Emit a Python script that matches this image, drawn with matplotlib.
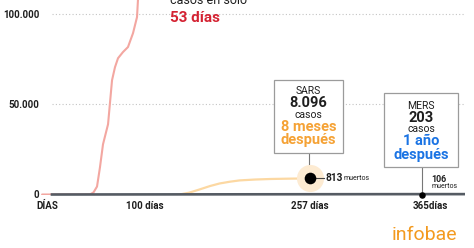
import matplotlib
matplotlib.use('Agg')
import matplotlib.pyplot as plt
from matplotlib.patches import Rectangle

plt.rcParams['font.family'] = ['Roboto', 'DejaVu Sans']

# curves (day, cases)
covid_days = [2, 30, 47.6, 51, 54.3, 57.1, 60, 64.8, 68.6, 71.4, 74.3, 79, 83.8,
              88.6, 92.4, 93.3, 96]
covid_cases = [0, 0, 0, 1200, 4400, 15000, 27800, 38900, 63300, 70500, 75500,
               78900, 81700, 89400, 98300, 107800, 118000]

sars_days = [133, 142, 152, 162, 171, 181, 190, 205, 220, 240, 257]
sars_cases = [0, 1000, 2800, 4700, 6100, 7100, 7800, 8300, 8600, 8800, 8900]

mers_days = [11.4, 365, 403.5]
mers_cases = [0, 203, 203]

ytick_vals = [0, 50000, 100000]
ytick_labels = ['0', '50.000', '100.000']
xtick_days = [100, 257, 372]
xtick_labels = ['100 días', '257 días', '365días']

sars_total, sars_deaths, sars_day = '8.096', '813', 257
mers_total, mers_deaths, mers_day = '203', '106', 364

pink = '#f3a7a1'
sars_col = '#fcd8a2'
orange = '#f5a235'
blue = '#1b74e4'
red = '#d42232'
dark = '#555b63'
txt = '#1e1e1e'

fig = plt.figure(figsize=(4.74, 2.48), dpi=100)
W, H = 474, 248
# axes: day 0 at x=40px, 0 cases at y=194.5px, 1.05 px/day, 1.805 px/1000 cases
ax = fig.add_axes([40 / W, (H - 194.5) / H, (W - 40) / W, 194.5 / H])
ax.set_xlim(0, (W - 40) / 1.05)
ax.set_ylim(0, 194.5 / 1.805 * 1000)
for s in ax.spines.values():
    s.set_visible(False)

# grid
for v in ytick_vals[1:]:
    ax.plot([11.4, 403.5], [v, v], color='#c4c4c4', lw=0.8,
            linestyle=(0, (1, 2)), zorder=1)

ax.plot(covid_days, covid_cases, color=pink, lw=1.5, zorder=2,
        solid_capstyle='round')
ax.plot(sars_days, sars_cases, color=sars_col, lw=1.6, zorder=2)
ax.plot(mers_days, mers_cases, color=dark, lw=1.9, zorder=3, clip_on=False)

ax.set_yticks(ytick_vals)
ax.set_yticklabels(ytick_labels, fontsize=7, fontweight='bold', color=txt)
ax.tick_params(axis='y', length=0, pad=0.5)
ax.set_xticks([])

xt = ax.get_xaxis_transform()
for d, lab in zip(xtick_days, xtick_labels):
    ax.text(d, -11.5 / 194.5, lab, transform=xt, ha='center', va='center',
            fontsize=7, fontweight='bold', color=txt, clip_on=False)
ax.text(-3.8, -11.5 / 194.5, 'DÍAS', transform=xt, ha='left', va='center',
        fontsize=7, fontweight='bold', color=txt, clip_on=False)

# covid note at the top
ax.text(123.8, 105300, 'casos en solo', ha='left', va='baseline', fontsize=9,
        color=txt, clip_on=False)
ax.text(123.8, 95300, '53 días', ha='left', va='baseline', fontsize=11,
        fontweight='bold', color=red)

# SARS marker
sy = 8900
ax.scatter([sars_day], [sy], s=380, color='#fdebd2', zorder=3, lw=0)
ax.scatter([sars_day], [sy], s=70, color='black', zorder=4, lw=0)
ax.plot([sars_day + 4, sars_day + 13], [sy, sy], color='#444', lw=0.8, zorder=3)
ax.text(sars_day + 14.5, sy, sars_deaths, ha='left', va='center', fontsize=7.3,
        fontweight='bold', color=txt)
ax.text(sars_day + 32.5, sy, 'muertos', ha='left', va='center', fontsize=5,
        color=txt)
ax.plot([sars_day - 0.5, sars_day - 0.5], [sy, 23000], color='#777', lw=0.8,
        zorder=2)

# SARS box
ax.add_patch(Rectangle((222.9, 23000), 288.6 - 222.9, 63400 - 23000,
                       facecolor='white', edgecolor='#9b9b9b', lw=0.9, zorder=5))
cx = 255.7
ax.text(cx, 57600, 'SARS', ha='center', va='center', fontsize=7.5, color=txt, zorder=6)
ax.text(cx, 50700, sars_total, ha='center', va='center', fontsize=10.5,
        fontweight='bold', color=txt, zorder=6)
ax.text(cx, 44100, 'casos', ha='center', va='center', fontsize=7.5, color=txt, zorder=6)
ax.text(cx, 37600, '8 meses', ha='center', va='center', fontsize=10.5,
        fontweight='bold', color=orange, zorder=6)
ax.text(cx, 30000, 'después', ha='center', va='center', fontsize=10.5,
        fontweight='bold', color=orange, zorder=6)

# MERS marker and box
ax.scatter([mers_day], [0], s=22, color='black', zorder=6, lw=0, clip_on=False)
ax.plot([mers_day - 0.5, mers_day - 0.5], [0, 15200], color='#777', lw=0.8, zorder=4)
ax.add_patch(Rectangle((327.6, 15200), 398.1 - 327.6, 56200 - 15200,
                       facecolor='white', edgecolor='#9b9b9b', lw=0.9, zorder=5))
mx = 362.9
ax.text(mx, 49300, 'MERS', ha='center', va='center', fontsize=7.5, color=txt, zorder=6)
ax.text(mx, 42400, mers_total, ha='center', va='center', fontsize=10.5,
        fontweight='bold', color=txt, zorder=6)
ax.text(mx, 36200, 'casos', ha='center', va='center', fontsize=7.5, color=txt, zorder=6)
ax.text(mx, 29400, '1 año', ha='center', va='center', fontsize=10.5,
        fontweight='bold', color=blue, zorder=6)
ax.text(mx, 21900, 'después', ha='center', va='center', fontsize=10.5,
        fontweight='bold', color=blue, zorder=6)
ax.text(373, 8200, mers_deaths, ha='left', va='center', fontsize=6.4,
        fontweight='bold', color=txt)
ax.text(372.5, 4200, 'muertos', ha='left', va='center', fontsize=5, color=txt)

fig.text(391.5 / W, 1 - 240 / H, 'infobae', ha='left', va='baseline',
         fontsize=14, color='#f39a1f')

fig.savefig('out.png', dpi=100)
